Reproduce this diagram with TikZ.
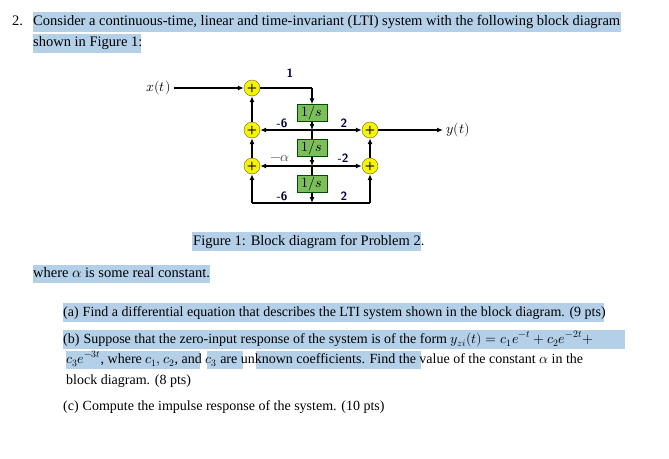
\documentclass[tikz,border=0pt]{standalone}
\usepackage{fontspec}
\setmainfont{Liberation Serif}
\usepackage{unicode-math}
\setmathfont{Latin Modern Math}
\usetikzlibrary{arrows.meta}
\definecolor{hl}{HTML}{B4D0E8}
\definecolor{sumy}{HTML}{F5F500}
\definecolor{blk}{HTML}{7CBF5A}
\tikzset{
 sumn/.style={circle,draw=olive!70!black,fill=sumy,minimum size=16pt,inner sep=0pt,font=\sffamily\bfseries\fontsize{12}{12}\selectfont},
 intb/.style={draw=green!30!black,fill=blk,minimum width=30pt,minimum height=17pt,inner sep=0pt,font=\fontsize{14}{14}\selectfont},
 sig/.style={line width=1.2pt,-{Latex[length=6pt,width=5pt]}},
 wire/.style={line width=1.2pt},
 gain/.style={font=\sffamily\bfseries\fontsize{12}{12}\selectfont,text=blue!25!black},
 txt/.style={anchor=base west,inner sep=0pt,font=\fontsize{14.5}{15}\selectfont},
 qtxt/.style={anchor=base west,inner sep=0pt,font=\fontsize{14}{15}\selectfont},
 hlb/.style={fill=hl,draw=none}
}
\begin{document}
\begin{tikzpicture}[x=1pt,y=-1pt]
\useasboundingbox[fill=white] (0,0) rectangle (669,458);
% highlights
\fill[hl] (33,12) rectangle (621,32);
\fill[hl] (33,34) rectangle (141,53);
\fill[hl] (192,232) rectangle (421,251);
\fill[hl] (33,265) rectangle (210,283);
\fill[hl] (63,303) rectangle (604,322);
\fill[hl] (63,330) rectangle (625,349);
\fill[hl] (66,351) rectangle (200,369);
\fill[hl] (207,351) rectangle (243,369);
\fill[hl] (256,351) rectangle (421,369);
% text
\node[txt] (t0) at (12,25) {2.};
\node[txt] (t1) at (33,25) {Consider a continuous-time, linear and time-invariant (LTI) system with the following block diagram};
\node[txt] (t2) at (33,46) {shown in Figure 1:};
\node[txt] (cap) at (193,245) {Figure 1: Block diagram for Problem 2.};
\node[txt] (wh) at (33,277) {where $\alpha$ is some real constant.};
\node[qtxt] (qa) at (63,316) {(a)\hspace{4pt}Find a differential equation that describes the LTI system shown in the block diagram. (9 pts)};
\node[qtxt] (qb) at (63,343) {(b)\hspace{4pt}Suppose that the zero-input response of the system is of the form $y_{zi}(t)=c_1e^{-t}+c_2e^{-2t}+$};
\node[qtxt] (qb2) at (66,363) {$c_3e^{-3t}$, where $c_1,c_2$, and $c_3$ are unknown coefficients. Find the value of the constant $\alpha$ in the};
\node[qtxt] (qb3) at (66,384) {block diagram. (8 pts)};
\node[qtxt] (qc) at (63,410) {(c)\hspace{4pt}Compute the impulse response of the system. (10 pts)};
% diagram
\node[sumn] (s1) at (252,88) {+};
\node[sumn] (s2) at (252,130) {+};
\node[sumn] (s3) at (252,166) {+};
\node[sumn] (s4) at (370,130) {+};
\node[sumn] (s5) at (370,166) {+};
\node[intb] (b1) at (312,113) {$1/s$};
\node[intb] (b2) at (312,148) {$1/s$};
\node[intb] (b3) at (312,184) {$1/s$};
\node[anchor=east,font=\fontsize{14}{14}\selectfont] (x) at (174,88) {$x(t)$};
\node[anchor=west,font=\fontsize{14}{14}\selectfont] (y) at (443,130) {$y(t)$};
\coordinate (k1) at (312,88);
\coordinate (bl) at (252,203);
\coordinate (bm) at (312,203);
\coordinate (br) at (370,203);
\coordinate (m1) at (312,130);
\coordinate (m2) at (312,166);
\draw[sig] (x) -- (s1);
\draw[wire] (s1) -- (k1);
\draw[sig] (k1) -- (b1);
\draw[sig] (b1) -- (m1);
\draw[wire] (m1) -- (b2);
\draw[sig] (b2) -- (m2);
\draw[wire] (m2) -- (b3);
\draw[sig] (b3) -- (bm);
\draw[sig] (m1) -- (s2);
\draw[sig] (m1) -- (s4);
\draw[sig] (m2) -- (s3);
\draw[sig] (m2) -- (s5);
\draw[wire] (bm) -- (bl);
\draw[sig] (bl) -- (s3);
\draw[wire] (bm) -- (br);
\draw[sig] (br) -- (s5);
\draw[sig] (s3) -- (s2);
\draw[sig] (s2) -- (s1);
\draw[sig] (s5) -- (s4);
\draw[sig] (s4) -- (y);
\node[gain] (g1) at (290,73) {1};
\node[gain] (g2) at (282,123) {-6};
\node[gain] (g3) at (344,123) {2};
\node[font=\fontsize{14}{14}\selectfont,text=gray!60!black] (g4) at (280,158) {$-\alpha$};
\node[gain] (g5) at (343,158) {-2};
\node[gain] (g6) at (282,196) {-6};
\node[gain] (g7) at (344,196) {2};
\end{tikzpicture}
\end{document}
